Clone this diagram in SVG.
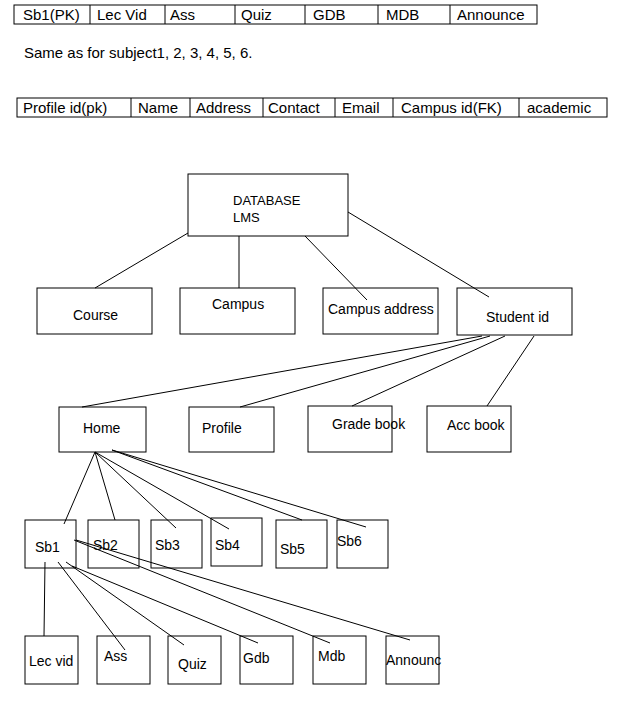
<svg xmlns="http://www.w3.org/2000/svg" width="620" height="708" viewBox="0 0 620 708">
<style>
rect{fill:#fff;stroke:#000;stroke-width:1}
text{font-family:"Liberation Sans",Arial,sans-serif;font-size:14px;fill:#000}
.t{font-size:15px}
.s{font-size:13px}
#connectors line{stroke:#000;stroke-width:1}
</style>
<rect x="0" y="0" width="620" height="708" style="stroke:none"/>
<g id="table1" class="t">
<rect x="14" y="5" width="523" height="19"/>
<line x1="90" y1="5" x2="90" y2="24" stroke="#000"/><line x1="165" y1="5" x2="165" y2="24" stroke="#000"/><line x1="235" y1="5" x2="235" y2="24" stroke="#000"/><line x1="305" y1="5" x2="305" y2="24" stroke="#000"/><line x1="378" y1="5" x2="378" y2="24" stroke="#000"/><line x1="450" y1="5" x2="450" y2="24" stroke="#000"/>
<text class="t" x="23" y="20">Sb1(PK)</text><text class="t" x="97" y="20">Lec Vid</text><text class="t" x="170" y="20">Ass</text><text class="t" x="241" y="20">Quiz</text><text class="t" x="313" y="20">GDB</text><text class="t" x="386" y="20">MDB</text><text class="t" x="457" y="20">Announce</text>
</g>
<text class="t" x="24" y="58">Same as for subject1, 2, 3, 4, 5, 6.</text>
<g id="table2">
<rect x="17" y="98" width="590" height="19"/>
<line x1="131" y1="98" x2="131" y2="117" stroke="#000"/><line x1="190" y1="98" x2="190" y2="117" stroke="#000"/><line x1="263" y1="98" x2="263" y2="117" stroke="#000"/><line x1="335" y1="98" x2="335" y2="117" stroke="#000"/><line x1="393" y1="98" x2="393" y2="117" stroke="#000"/><line x1="519" y1="98" x2="519" y2="117" stroke="#000"/>
<text class="t" x="23" y="113">Profile id(pk)</text><text class="t" x="138" y="113">Name</text><text class="t" x="196" y="113">Address</text><text class="t" x="268" y="113">Contact</text><text class="t" x="342" y="113">Email</text><text class="t" x="401" y="113">Campus id(FK)</text><text class="t" x="527" y="113">academic</text>
</g>
<g id="db"><rect x="188" y="174" width="160" height="62"/><text class="s" x="233" y="205">DATABASE</text><text class="s" x="233" y="222">LMS</text></g>
<g id="course"><rect x="37" y="288" width="115" height="46"/><text x="73" y="320">Course</text></g>
<g id="campus"><rect x="180" y="288" width="115" height="46"/><text x="212" y="309">Campus</text></g>
<g id="campusaddr"><rect x="323" y="288" width="115" height="46"/><text x="328" y="314">Campus address</text></g>
<g id="student"><rect x="457" y="288" width="115" height="47"/><text x="486" y="322">Student id</text></g>
<g id="home"><rect x="59" y="407" width="87" height="45"/><text x="83" y="433">Home</text></g>
<g id="profile"><rect x="189" y="407" width="85" height="45"/><text x="202" y="433">Profile</text></g>
<g id="grade"><rect x="308" y="406" width="84" height="46"/><text x="332" y="429">Grade book</text></g>
<g id="acc"><rect x="427" y="406" width="84" height="46"/><text x="447" y="430">Acc book</text></g>
<g id="sb1"><rect x="25" y="520" width="51" height="48"/><text x="35" y="552">Sb1</text></g>
<g id="sb2"><rect x="88" y="520" width="51" height="48"/><text x="93" y="550">Sb2</text></g>
<g id="sb3"><rect x="151" y="520" width="51" height="48"/><text x="155" y="550">Sb3</text></g>
<g id="sb4"><rect x="211" y="518" width="51" height="48"/><text x="215" y="550">Sb4</text></g>
<g id="sb5"><rect x="276" y="520" width="51" height="48"/><text x="280" y="554">Sb5</text></g>
<g id="sb6"><rect x="337" y="520" width="51" height="48"/><text x="337" y="546">Sb6</text></g>
<g id="lecvid"><rect x="25" y="636" width="53" height="48"/><text x="29" y="666">Lec vid</text></g>
<g id="ass"><rect x="97" y="636" width="53" height="48"/><text x="104" y="661">Ass</text></g>
<g id="quiz"><rect x="168" y="636" width="53" height="48"/><text x="178" y="669">Quiz</text></g>
<g id="gdb"><rect x="240" y="636" width="53" height="48"/><text x="243" y="663">Gdb</text></g>
<g id="mdb"><rect x="313" y="636" width="53" height="48"/><text x="318" y="661">Mdb</text></g>
<g id="announc"><rect x="386" y="636" width="53" height="48"/><text x="386" y="665">Announc</text></g>
<g id="connectors">
<line x1="188" y1="233" x2="95" y2="288"/><line x1="239" y1="236" x2="239" y2="288"/><line x1="305" y1="236" x2="367" y2="300"/><line x1="348" y1="212" x2="489" y2="297"/>
<line x1="482" y1="336" x2="82" y2="407"/><line x1="490" y1="336" x2="240" y2="407"/><line x1="505" y1="336" x2="352" y2="406"/><line x1="534" y1="336" x2="487" y2="406"/>
<line x1="95" y1="452" x2="64" y2="524"/><line x1="95" y1="452" x2="115" y2="520"/><line x1="95" y1="452" x2="176" y2="528"/><line x1="95" y1="452" x2="229" y2="529"/><line x1="112" y1="450" x2="302" y2="520"/><line x1="112" y1="450" x2="366" y2="527"/>
<line x1="45" y1="562" x2="44" y2="636"/><line x1="58" y1="562" x2="125" y2="650"/><line x1="66" y1="562" x2="184" y2="645"/><line x1="72" y1="566" x2="258" y2="643"/><line x1="74" y1="540" x2="330" y2="643"/><line x1="76" y1="540" x2="410" y2="640"/>
</g>
</svg>
